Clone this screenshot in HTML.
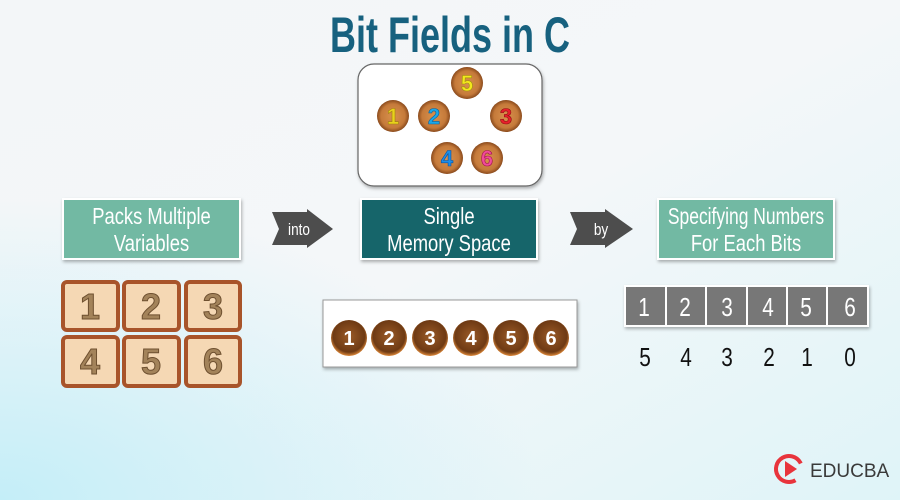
<!DOCTYPE html>
<html><head><meta charset="utf-8">
<style>
html,body{margin:0;padding:0;width:900px;height:500px;overflow:hidden}
body{font-family:"Liberation Sans",sans-serif}
</style></head>
<body>
<svg width="900" height="500" viewBox="0 0 900 500" xmlns="http://www.w3.org/2000/svg" font-family="Liberation Sans, sans-serif">
<defs>
<linearGradient id="bg" x1="0" y1="0" x2="1" y2="1">
<stop offset="0" stop-color="#f3f6f8"/><stop offset="0.5" stop-color="#f4f7f9"/><stop offset="1" stop-color="#dff4f8"/>
</linearGradient>
<radialGradient id="bl" cx="0" cy="1" r="0.6">
<stop offset="0" stop-color="#c4eef8"/><stop offset="1" stop-color="#c4eef8" stop-opacity="0"/>
</radialGradient>
<radialGradient id="coin" cx="0.5" cy="0.5" r="0.5">
<stop offset="0" stop-color="#d9924e"/><stop offset="0.75" stop-color="#c57a3a"/><stop offset="1" stop-color="#8a4a1c"/>
</radialGradient>
<radialGradient id="wc" cx="0.5" cy="0.45" r="0.55">
<stop offset="0" stop-color="#9a5a26"/><stop offset="0.8" stop-color="#6e3a14"/><stop offset="1" stop-color="#e08a3a"/>
</radialGradient>
<filter id="sh" x="-10%" y="-10%" width="120%" height="130%"><feDropShadow dx="1" dy="2" stdDeviation="1.5" flood-color="#000" flood-opacity="0.3"/></filter>
</defs>
<rect width="900" height="500" fill="url(#bg)"/>
<rect width="900" height="500" fill="url(#bl)"/>

<text x="450" y="52" text-anchor="middle" font-size="50" font-weight="bold" fill="#17617f" transform="translate(450 0) scale(0.72 1) translate(-450 0)">Bit Fields in C</text>

<rect x="358" y="64" width="184" height="122" rx="16" fill="#fff" stroke="#666" stroke-width="1.2" filter="url(#sh)"/>
<g font-weight="bold" font-size="22" text-anchor="middle">
<circle cx="393" cy="116" r="16" fill="url(#coin)"/><text x="393" y="124" fill="#e8d21c" stroke="#a08010" stroke-width="0.6">1</text>
<circle cx="434" cy="116" r="16" fill="url(#coin)"/><text x="434" y="124" fill="#1ba8e8" stroke="#0a60a0" stroke-width="0.6">2</text>
<circle cx="467" cy="83" r="16" fill="url(#coin)"/><text x="467" y="91" fill="#f2e81c" stroke="#a09010" stroke-width="0.6">5</text>
<circle cx="506" cy="116" r="16" fill="url(#coin)"/><text x="506" y="124" fill="#e8202c" stroke="#901010" stroke-width="0.6">3</text>
<circle cx="447" cy="158" r="16" fill="url(#coin)"/><text x="447" y="166" fill="#1c8ee8" stroke="#0a50a0" stroke-width="0.6">4</text>
<circle cx="487" cy="158" r="16" fill="url(#coin)"/><text x="487" y="166" fill="#f04c9a" stroke="#a01050" stroke-width="0.6">6</text>
</g>

<g font-size="23" fill="#fff" text-anchor="middle">
<rect x="63" y="199" width="177" height="60" fill="#72b9a3" stroke="#fff" stroke-width="2" filter="url(#sh)"/>
<text transform="translate(151.5 224) scale(0.8 1)">Packs Multiple</text>
<text transform="translate(151.5 251) scale(0.8 1)">Variables</text>
<rect x="361" y="199" width="176" height="60" fill="#17656a" stroke="#fff" stroke-width="2" filter="url(#sh)"/>
<text transform="translate(449 224) scale(0.8 1)">Single</text>
<text transform="translate(449 251) scale(0.8 1)">Memory Space</text>
<rect x="658" y="199" width="176" height="60" fill="#72b9a3" stroke="#fff" stroke-width="2" filter="url(#sh)"/>
<text transform="translate(746 224) scale(0.76 1)">Specifying Numbers</text>
<text transform="translate(746 251) scale(0.8 1)">For Each Bits</text>
</g>

<polygon points="272,212 307,212 307,209 333,229 307,248 307,245 272,245 279,229" fill="#4d4d4d"/>
<text transform="translate(299 235) scale(0.8 1)" font-size="17" fill="#fff" text-anchor="middle">into</text>
<polygon points="570,212 605,212 605,209 633,229 605,248 605,245 570,245 577,229" fill="#4d4d4d"/>
<text transform="translate(601 235) scale(0.8 1)" font-size="17" fill="#fff" text-anchor="middle">by</text>

<g font-weight="bold" font-size="36" text-anchor="middle" fill="#a3835a" stroke="#6e5030" stroke-width="1">
<rect x="63" y="282" width="55" height="48" rx="4" fill="#f5d8b4" stroke="#a8542a" stroke-width="4"/>
<rect x="124" y="282" width="55" height="48" rx="4" fill="#f5d8b4" stroke="#a8542a" stroke-width="4"/>
<rect x="186" y="282" width="54" height="48" rx="4" fill="#f5d8b4" stroke="#a8542a" stroke-width="4"/>
<rect x="63" y="337" width="55" height="49" rx="4" fill="#f5d8b4" stroke="#a8542a" stroke-width="4"/>
<rect x="124" y="337" width="55" height="49" rx="4" fill="#f5d8b4" stroke="#a8542a" stroke-width="4"/>
<rect x="186" y="337" width="54" height="49" rx="4" fill="#f5d8b4" stroke="#a8542a" stroke-width="4"/>
<text x="90" y="319">1</text><text x="151" y="319">2</text><text x="213" y="319">3</text>
<text x="90" y="374">4</text><text x="151" y="374">5</text><text x="213" y="374">6</text>
</g>

<rect x="323" y="300" width="254" height="67" fill="#fff" stroke="#999" stroke-width="1" filter="url(#sh)"/>
<g font-weight="bold" font-size="20" fill="#fff" text-anchor="middle">
<circle cx="349" cy="338" r="18" fill="url(#wc)"/><text x="349" y="345">1</text>
<circle cx="389" cy="338" r="18" fill="url(#wc)"/><text x="389" y="345">2</text>
<circle cx="430" cy="338" r="18" fill="url(#wc)"/><text x="430" y="345">3</text>
<circle cx="471" cy="338" r="18" fill="url(#wc)"/><text x="471" y="345">4</text>
<circle cx="511" cy="338" r="18" fill="url(#wc)"/><text x="511" y="345">5</text>
<circle cx="551" cy="338" r="18" fill="url(#wc)"/><text x="551" y="345">6</text>
</g>

<g filter="url(#sh)">
<rect x="625" y="286" width="243" height="40" fill="#777" stroke="#fff" stroke-width="2"/>
</g>
<g stroke="#fff" stroke-width="2">
<line x1="666" y1="286" x2="666" y2="326"/><line x1="706" y1="286" x2="706" y2="326"/>
<line x1="747" y1="286" x2="747" y2="326"/><line x1="787" y1="286" x2="787" y2="326"/>
<line x1="827" y1="286" x2="827" y2="326"/>
</g>
<g font-size="26" fill="#fff" text-anchor="middle">
<text transform="translate(644 316) scale(0.8 1)">1</text>
<text transform="translate(685 316) scale(0.8 1)">2</text>
<text transform="translate(727 316) scale(0.8 1)">3</text>
<text transform="translate(768 316) scale(0.8 1)">4</text>
<text transform="translate(806 316) scale(0.8 1)">5</text>
<text transform="translate(850 316) scale(0.8 1)">6</text>
</g>
<g font-size="26" fill="#111" text-anchor="middle">
<text transform="translate(645 366) scale(0.8 1)">5</text>
<text transform="translate(686 366) scale(0.8 1)">4</text>
<text transform="translate(727 366) scale(0.8 1)">3</text>
<text transform="translate(769 366) scale(0.8 1)">2</text>
<text transform="translate(807 366) scale(0.8 1)">1</text>
<text transform="translate(850 366) scale(0.8 1)">0</text>
</g>

<circle cx="789" cy="469" r="13" fill="none" stroke="#e8343c" stroke-width="4" stroke-dasharray="62 20" transform="rotate(60 789 469)"/>
<polygon points="785,461 797,469 785,477" fill="#e8343c"/>
<text x="810" y="477" font-size="19" fill="#3a3a3a">EDUCBA</text>
</svg>
</body></html>
